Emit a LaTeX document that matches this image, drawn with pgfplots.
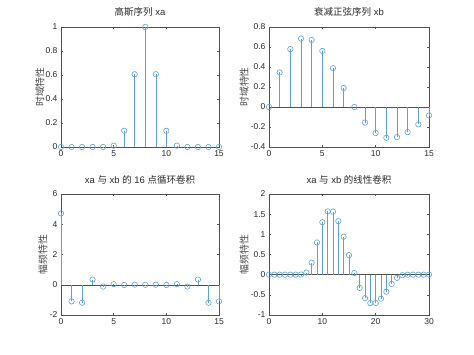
\documentclass[border=0pt]{standalone}
\usepackage{fontspec}
\setmainfont{Liberation Sans}
\newfontfamily\cjk{Noto Sans CJK SC}
\usepackage{pgfplots}
\pgfplotsset{compat=1.18}
\definecolor{stemc}{RGB}{95,160,212}
\definecolor{axc}{RGB}{80,80,80}
\definecolor{txc}{RGB}{40,40,40}
\pgfplotsset{ml/.style={
  scale only axis,
  axis line style={draw=axc, line width=0.5pt},
  every tick/.style={draw=axc, line width=0.4pt},
  tick align=inside, major tick length=2pt,
  xtick pos=both, ytick pos=both,
  xticklabel pos=lower, yticklabel pos=left,
  ticklabel style={font=\fontsize{8.5}{10}\selectfont, text=txc},
  /pgf/number format/assume math mode=true,
  title style={font=\fontsize{9.5}{11}\selectfont, text=txc, at={(axis description cs:0.5,1)}, anchor=base, yshift=5pt, inner sep=0pt},
  every axis y label/.style={rotate=90, anchor=center, font=\cjk\fontsize{9.8}{11}\selectfont, text=txc!85},
  clip=false,
  stem/.style={stemc, line width=0.6pt, ycomb, mark=o, mark size=2.7pt, mark options={solid, fill=none}},
  base/.style={axc, line width=0.5pt, no marks},
}}
\begin{document}
\begin{tikzpicture}
\path (0,0) rectangle (474pt,354pt);
% top-left
\begin{axis}[ml, at={(61pt,207pt)}, anchor=south west, width=158pt, height=120pt,
  xmin=0, xmax=15, ymin=0, ymax=1, xtick={0,5,10,15}, ytick={0,0.2,0.4,0.6,0.8,1},
  title={{\cjk 高斯序列} xa}, ylabel={时域特性}, ylabel style={at={(axis description cs:-0.133,0.5)}}]
\addplot[base] coordinates {(0,0) (15,0)};
\addplot[stem] coordinates {
(0,0) (1,0) (2,0) (3,0.0000037) (4,0.000335) (5,0.011109) (6,0.135335) (7,0.606531)
(8,1) (9,0.606531) (10,0.135335) (11,0.011109) (12,0.000335) (13,0.0000037) (14,0) (15,0)};
\end{axis}
% top-right
\begin{axis}[ml, at={(269pt,207pt)}, anchor=south west, width=160pt, height=120pt,
  xmin=0, xmax=15, ymin=-0.4, ymax=0.8, xtick={0,5,10,15}, ytick={-0.4,-0.2,0,0.2,0.4,0.6,0.8},
  title={{\cjk 衰减正弦序列} xb}, ylabel={时域特性}, ylabel style={at={(axis description cs:-0.156,0.5)}}]
\addplot[base] coordinates {(0,0) (15,0)};
\addplot[stem] coordinates {
(0,0) (1,0.346265) (2,0.578929) (3,0.684427) (4,0.670320) (5,0.560360) (6,0.388067) (7,0.190036)
(8,0) (9,-0.155587) (10,-0.260130) (11,-0.307533) (12,-0.301194) (13,-0.251785) (14,-0.174370) (15,-0.085390)};
\end{axis}
% bottom-left
\begin{axis}[ml, at={(61pt,39pt)}, anchor=south west, width=158pt, height=121pt,
  xmin=0, xmax=15, ymin=-2, ymax=6, xtick={0,5,10,15}, ytick={-2,0,2,4,6},
  title={xa {\cjk 与} xb {\cjk 的} 16 {\cjk 点循环卷积}}, ylabel={幅频特性}, ylabel style={at={(axis description cs:-0.114,0.5)}}]
\addplot[base] coordinates {(0,0) (15,0)};
\addplot[stem] coordinates {
(0,4.7185) (1,-1.0991) (2,-1.1877) (3,0.3445) (4,-0.1193) (5,0.0424) (6,-0.0147) (7,0.0051)
(8,-0.0029) (9,0.0051) (10,-0.0147) (11,0.0424) (12,-0.1193) (13,0.3445) (14,-1.1877) (15,-1.0991)};
\end{axis}
% bottom-right
\begin{axis}[ml, at={(269pt,39pt)}, anchor=south west, width=160pt, height=121pt,
  xmin=0, xmax=30, ymin=-1, ymax=2, xtick={0,10,20,30}, ytick={-1,-0.5,0,0.5,1,1.5,2},
  title={xa {\cjk 与} xb {\cjk 的线性卷积}}, ylabel={幅频特性}, ylabel style={at={(axis description cs:-0.156,0.5)}}]
\addplot[base] coordinates {(0,0) (30,0)};
\addplot[stem] coordinates {
(0,0) (1,0) (2,0) (3,0) (4,0) (5,0.0001) (6,0.0040) (7,0.0535) (8,0.2962) (9,0.7977)
(10,1.3011) (11,1.5692) (12,1.5620) (13,1.3271) (14,0.9399) (15,0.4849) (16,0.0411)
(17,-0.3282) (18,-0.5824) (19,-0.7050) (20,-0.7019) (21,-0.5963) (22,-0.4231) (23,-0.2287)
(24,-0.0783) (25,-0.0136) (26,-0.0010) (27,0) (28,0) (29,0) (30,0)};
\end{axis}
\end{tikzpicture}
\end{document}
